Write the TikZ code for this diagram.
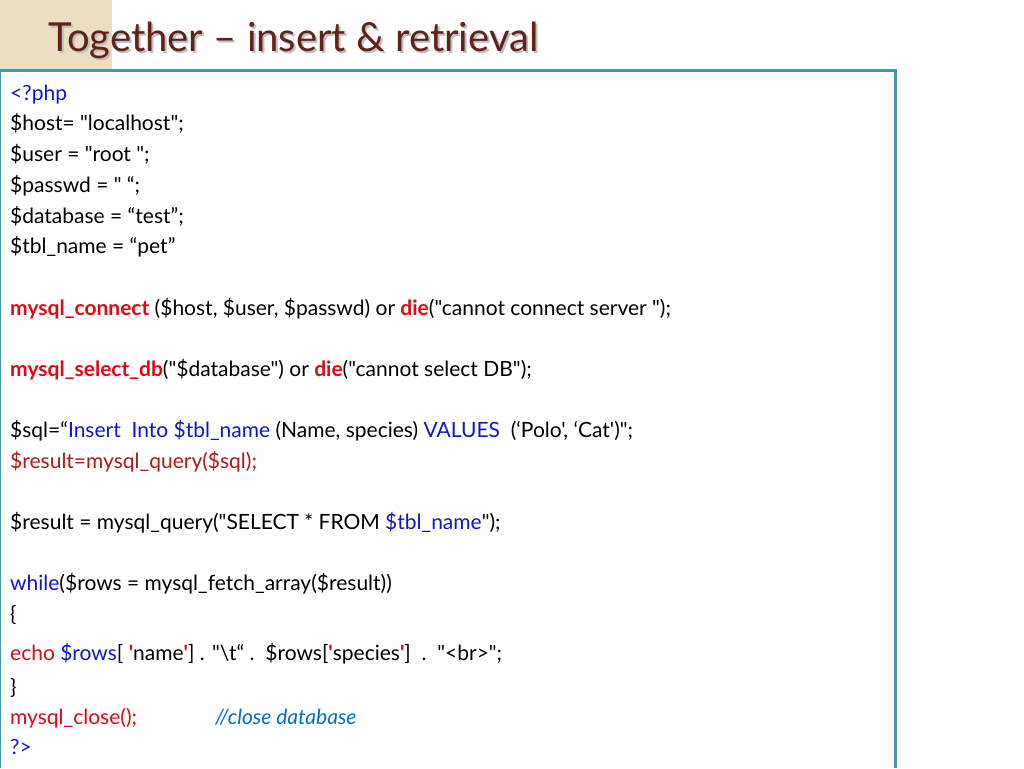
\documentclass[tikz,border=0pt]{standalone}
\usepackage{fontspec}
\usepackage{xcolor}
\usetikzlibrary{positioning}
\newfontfamily\codefont{Lato}
\definecolor{kwred}{RGB}{220,10,20}
\definecolor{kwblue}{RGB}{20,20,200}
\definecolor{resred}{RGB}{175,25,25}
\definecolor{cmtblue}{RGB}{0,112,192}
\definecolor{frame}{RGB}{70,150,165}
\definecolor{titlebrown}{RGB}{95,35,25}
\definecolor{beige}{RGB}{235,222,195}
\newcommand{\kr}[1]{\textcolor{kwred}{\textbf{#1}}}
\newcommand{\kb}[1]{\textcolor{kwblue}{#1}}

\begin{document}
\begin{tikzpicture}[x=1pt, y=-1pt,
  codeline/.style={anchor=base west, inner sep=0pt, font=\codefont\fontsize{21}{24}\selectfont},
  titletext/.style={anchor=base west, inner sep=0pt, font=\codefont\fontsize{40}{44}\selectfont, text=titlebrown}]
  \useasboundingbox (0,0) rectangle (1024,768);
  % corner decoration and frame
  \fill[beige] (0,0) rectangle (112,70);
  \draw[white, line width=1pt] (40,70) arc[start angle=180, end angle=110, radius=80];
  \fill[white] (0,70) rectangle (895,768);
  \draw[frame, line width=3pt] (0,70) -- (895,70) -- (895,768);
  \draw[frame, line width=1.2pt] (0.6,70) -- (0.6,768);
  % title
  \node[titletext, text=black!25, xshift=2pt, yshift=-2pt] (shadow) at (48,52) {Together – insert \& retrieval};
  \node[titletext] (title) at (48,52) {Together – insert \& retrieval};
  % code
  \node[codeline] (l1) at (10,100) {\kb{<?php}};
  \node[codeline] (l2) at (10,130) {\$host= "localhost";};
  \node[codeline] (l3) at (10,161) {\$user = "root ";};
  \node[codeline] (l4) at (10,192) {\$passwd = " “;};
  \node[codeline] (l5) at (10,223) {\$database = “test”;};
  \node[codeline] (l6) at (10,253) {\$tbl\_name = “pet”};
  \node[codeline] (l7) at (10,315) {\kr{mysql\_connect} (\$host, \$user, \$passwd) or \kr{die}("cannot connect server ");};
  \node[codeline] (l8) at (10,376) {\kr{mysql\_select\_db}("\$database") or \kr{die}("cannot select DB");};
  \node[codeline] (l9) at (10,437) {\$sql=“\kb{Insert\ \ Into \$tbl\_name} (Name, species)\ \kb{VALUES}\ \ (‘Polo', ‘Cat')";};
  \node[codeline, text=resred] (l10) at (10,468) {\$result=mysql\_query(\$sql);};
  \node[codeline] (l11) at (10,529) {\$result = mysql\_query("SELECT * FROM \kb{\$tbl\_name}");};
  \node[codeline] (l12) at (10,590) {\kb{while}(\$rows = mysql\_fetch\_array(\$result))};
  \node[codeline] (l13) at (10,621) {\{};
  \node[codeline] (l14) at (10,660) {\textcolor{kwred}{echo} \kb{\$rows}[ \textcolor{kwred}{\textbf{'}}name\textcolor{kwred}{\textbf{'}}] . "\textbackslash t“ .\ \ \$rows[\textcolor{kwred}{\textbf{'}}species\textcolor{kwred}{\textbf{'}}]\ \ .\ \ "<br>";};
  \node[codeline] (l15) at (10,694) {\}};
  \node[codeline] (l16) at (10,724) {\textcolor{kwred}{mysql\_close();}};
  \node[codeline, text=cmtblue] (cmt) at (215,724) {\itshape //close database};
  \node[codeline] (l17) at (10,754) {\kb{?>}};
\end{tikzpicture}
\end{document}
